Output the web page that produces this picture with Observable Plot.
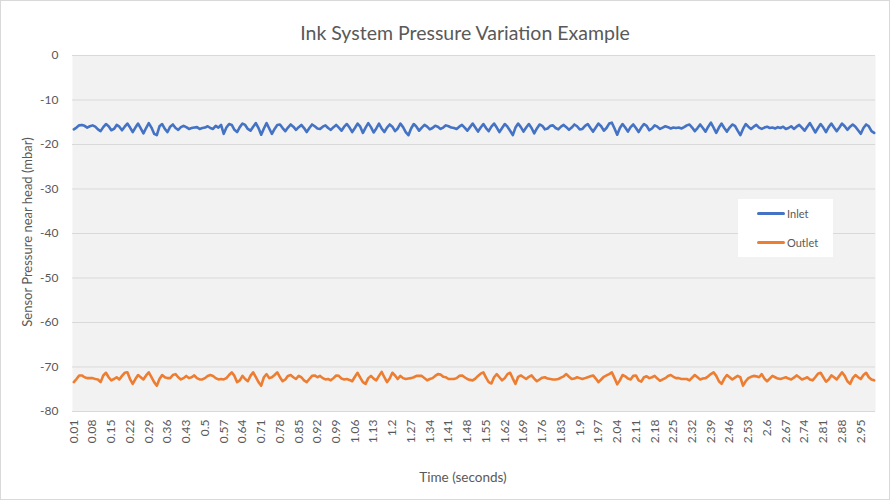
<!DOCTYPE html>
<html>
<head>
<meta charset="utf-8">
<script src="https://cdn.jsdelivr.net/npm/d3@7"></script>
<script src="https://cdn.jsdelivr.net/npm/@observablehq/plot@0.6"></script>
<style>
  body { margin: 0; background: #fff; }
  #chart { position: relative; width: 890px; height: 500px; font-family: Lato, "Open Sans", sans-serif; color: #595959; overflow: hidden; }
  #chart svg { position: absolute; left: 0; top: 0; }
  .border { position: absolute; left: 0; top: 0; width: 890px; height: 500px; box-sizing: border-box; border: 1px solid #d9d9d9; pointer-events: none; }
  .title { position: absolute; left: 465px; top: 32px; transform: translate(-50%, -50%); font-size: 19.5px; white-space: nowrap; }
  .xlabel { position: absolute; left: 463px; top: 477px; transform: translate(-50%, -50%); font-size: 13.5px; white-space: nowrap; }
  .ylabel { position: absolute; left: 27px; top: 232px; transform: translate(-50%, -50%) rotate(-90deg); font-size: 13px; white-space: nowrap; }
  .legend { position: absolute; left: 738px; top: 199px; width: 95px; height: 58px; background: #fff; font-size: 11px; }
  .legend .item { position: absolute; left: 19px; display: flex; align-items: center; height: 14px; }
  .legend .sw { width: 28px; height: 3px; margin-right: 2px; border-radius: 1.5px; }
</style>
</head>
<body>
<div id="chart"></div>
<script>
// Sample times in seconds (category axis), 0.01 s to 3.00 s
const times = d3.range(1, 301).map(i => String(+(i / 100).toFixed(2)));

// Category labels shown along the time axis
const tickLabels = ["0.01","0.08","0.15","0.22","0.29","0.36","0.43","0.5","0.57","0.64","0.71","0.78","0.85","0.92","0.99","1.06","1.13","1.2","1.27","1.34","1.41","1.48","1.55","1.62","1.69","1.76","1.83","1.9","1.97","2.04","2.11","2.18","2.25","2.32","2.39","2.46","2.53","2.6","2.67","2.74","2.81","2.88","2.95"];

const yTicks = [0, -10, -20, -30, -40, -50, -60, -70, -80];

// Inlet pressure (mbar)
const inlet = [
  -16.6,-16.2,-15.7,-15.6,-15.8,-16.2,-15.9,-15.7,-16.0,-16.6,-17.0,-16.1,-15.4,-15.9,-16.8,-16.5,-15.6,-16.0,-16.8,-16.0,
  -15.3,-16.2,-17.2,-16.2,-15.3,-16.4,-17.5,-16.3,-15.2,-16.2,-17.6,-17.9,-15.9,-15.4,-16.5,-17.2,-16.0,-15.5,-16.3,-16.7,
  -16.1,-15.8,-16.1,-16.5,-16.3,-16.2,-16.1,-16.5,-16.3,-16.2,-15.9,-16.3,-16.5,-15.8,-16.2,-15.6,-17.6,-16.2,-15.4,-15.6,
  -16.7,-17.2,-16.1,-15.3,-15.6,-16.5,-16.9,-16.0,-15.2,-16.3,-17.8,-16.4,-15.2,-16.4,-17.6,-16.5,-15.6,-15.5,-16.3,-17.0,
  -16.2,-15.5,-16.0,-16.7,-16.1,-15.6,-16.3,-17.2,-16.3,-15.5,-15.9,-16.4,-16.5,-16.0,-15.7,-16.3,-16.7,-16.1,-15.6,-16.2,
  -16.9,-16.0,-15.4,-16.2,-17.2,-16.3,-15.3,-16.0,-17.4,-16.2,-15.2,-16.1,-17.3,-16.4,-15.3,-16.4,-17.2,-16.2,-15.5,-16.0,
  -17.0,-16.4,-15.3,-16.1,-17.2,-17.9,-16.4,-15.4,-16.0,-16.9,-16.2,-15.6,-16.0,-16.6,-16.3,-15.8,-16.0,-16.5,-16.2,-15.7,
  -15.9,-16.2,-16.3,-16.5,-16.0,-15.6,-16.2,-16.9,-16.1,-15.3,-16.2,-17.1,-16.2,-15.4,-16.3,-17.0,-16.0,-15.3,-16.2,-17.2,
  -16.3,-15.4,-16.0,-16.9,-17.9,-16.2,-15.3,-16.1,-17.1,-16.2,-15.4,-16.3,-17.5,-16.4,-15.5,-15.8,-16.6,-16.4,-15.8,-15.7,
  -16.3,-16.6,-16.0,-15.6,-16.1,-16.7,-16.2,-15.5,-15.9,-16.6,-16.5,-15.8,-15.4,-16.3,-17.1,-16.2,-15.3,-15.9,-16.9,-16.3,
  -15.3,-15.1,-16.4,-17.8,-16.3,-15.4,-16.2,-17.1,-16.1,-15.5,-16.3,-17.2,-16.2,-15.4,-15.8,-16.8,-16.4,-15.7,-16.0,-16.5,
  -16.2,-15.9,-16.1,-16.4,-16.2,-16.3,-16.2,-16.4,-16.1,-15.7,-15.5,-16.2,-17.0,-16.3,-15.5,-16.3,-17.1,-16.0,-15.1,-16.2,
  -17.4,-16.2,-15.3,-16.3,-17.1,-16.2,-15.5,-15.8,-16.9,-17.9,-16.5,-15.4,-16.0,-16.5,-16.0,-15.6,-16.2,-16.5,-16.2,-16.0,
  -16.3,-16.2,-16.4,-16.1,-16.3,-16.0,-16.5,-16.3,-15.9,-16.5,-16.0,-15.6,-16.2,-16.9,-16.0,-15.2,-16.2,-17.3,-16.3,-15.4,
  -16.2,-17.2,-16.1,-15.3,-16.2,-17.0,-16.2,-15.3,-15.9,-16.7,-16.0,-15.5,-16.0,-16.8,-17.6,-16.3,-15.5,-15.9,-17.0,-17.4
];

// Outlet pressure (mbar)
const outlet = [
  -73.4,-72.7,-71.9,-71.9,-72.3,-72.5,-72.5,-72.5,-72.7,-72.8,-73.4,-71.9,-71.3,-72.3,-73.0,-72.7,-72.3,-72.8,-72.0,-71.3,
  -71.2,-72.7,-73.8,-72.7,-71.8,-72.3,-72.8,-71.9,-71.2,-72.3,-73.4,-74.2,-72.7,-71.8,-72.3,-72.5,-72.5,-71.8,-71.6,-72.3,
  -72.8,-72.5,-72.0,-72.5,-72.3,-71.9,-72.5,-72.8,-72.8,-72.5,-72.0,-71.8,-72.0,-72.5,-72.8,-72.7,-72.8,-72.5,-71.8,-71.2,
  -72.0,-73.4,-73.0,-72.0,-72.7,-73.2,-72.0,-71.2,-72.3,-73.4,-74.2,-72.3,-71.6,-72.5,-72.3,-71.8,-71.2,-72.3,-73.2,-72.8,
  -72.0,-71.8,-72.3,-72.7,-72.0,-72.3,-73.0,-73.4,-72.7,-72.0,-71.9,-72.3,-72.0,-72.5,-72.8,-72.7,-73.0,-72.5,-71.9,-72.0,
  -72.6,-72.8,-72.7,-72.9,-73.2,-72.2,-71.3,-72.4,-73.4,-73.8,-72.5,-72.0,-72.6,-73.0,-72.0,-71.1,-72.3,-73.4,-72.6,-71.3,
  -71.9,-72.7,-72.0,-72.5,-72.7,-72.6,-72.5,-72.3,-72.0,-72.0,-72.0,-72.5,-73.0,-72.7,-72.5,-72.0,-71.6,-71.7,-72.2,-72.3,
  -72.7,-72.7,-72.7,-72.5,-72.0,-71.9,-72.3,-72.7,-72.9,-73.0,-72.6,-72.0,-71.5,-71.2,-72.4,-73.4,-73.7,-72.3,-71.6,-72.3,
  -73.0,-72.5,-71.6,-71.3,-72.6,-73.8,-72.2,-71.9,-72.3,-72.7,-72.2,-71.9,-72.6,-73.2,-72.8,-72.4,-72.3,-72.6,-72.7,-72.8,
  -72.8,-72.7,-72.4,-72.1,-71.6,-72.2,-72.7,-72.6,-72.3,-72.5,-72.7,-72.5,-72.3,-72.1,-71.9,-72.6,-73.4,-72.8,-72.2,-71.9,
  -71.6,-71.2,-72.5,-73.9,-73.0,-71.8,-72.1,-72.6,-72.8,-72.0,-71.9,-73.0,-73.3,-72.3,-72.1,-72.5,-72.3,-72.0,-72.6,-73.1,
  -72.8,-72.5,-72.0,-71.8,-72.2,-72.5,-72.5,-72.7,-72.7,-72.7,-73.0,-72.4,-71.8,-72.3,-72.8,-72.6,-72.5,-72.1,-71.6,-71.2,
  -72.0,-73.2,-73.8,-72.6,-71.8,-72.3,-72.8,-72.4,-72.0,-72.3,-74.2,-73.2,-72.5,-72.2,-72.0,-72.1,-72.3,-71.6,-72.6,-73.2,
  -72.6,-72.0,-72.3,-72.6,-72.7,-72.5,-72.3,-72.6,-72.8,-72.4,-71.9,-72.3,-72.8,-72.6,-72.3,-72.8,-73.0,-72.3,-71.5,-71.3,
  -72.3,-73.3,-72.8,-71.9,-72.3,-72.8,-72.0,-71.2,-72.0,-73.2,-73.8,-72.5,-71.8,-72.3,-72.7,-71.8,-71.3,-72.3,-72.8,-73.0
];

const seriesNames = ["Inlet", "Outlet"];
const seriesColors = ["#4472c4", "#ed7d31"];

const rows = [
  ...times.map((t, i) => ({t, v: inlet[i], s: seriesNames[0]})),
  ...times.map((t, i) => ({t, v: outlet[i], s: seriesNames[1]}))
];

const plot = Plot.plot({
  width: 890,
  height: 500,
  marginTop: 55,
  marginRight: 15,
  marginBottom: 89,
  marginLeft: 72,
  style: {fontFamily: "Lato, 'Open Sans', sans-serif", fontSize: "12px", color: "#595959", background: "transparent"},
  x: {type: "point", domain: times, padding: 0.5},
  y: {domain: [-80, 0]},
  color: {domain: seriesNames, range: seriesColors},
  marks: [
    Plot.frame({fill: "#f2f2f2", stroke: null}),
    Plot.gridY(yTicks, {stroke: "#d9d9d9", strokeOpacity: 1, strokeWidth: 1}),
    Plot.axisY(yTicks, {tickSize: 0, tickPadding: 14, label: null, fill: "#595959", fontSize: 12, tickFormat: d => String(d)}),
    Plot.axisX(tickLabels, {tickSize: 0, tickPadding: 8, tickRotate: -90, label: null, fill: "#595959", fontSize: 12}),
    Plot.line(rows, {x: "t", y: "v", z: "s", stroke: "s", strokeWidth: 2.6, strokeLinejoin: "round", strokeLinecap: "round"})
  ]
});

const chart = document.getElementById("chart");
chart.appendChild(plot);

const title = document.createElement("div");
title.className = "title";
title.textContent = "Ink System Pressure Variation Example";
chart.appendChild(title);

const xl = document.createElement("div");
xl.className = "xlabel";
xl.textContent = "Time (seconds)";
chart.appendChild(xl);

const yl = document.createElement("div");
yl.className = "ylabel";
yl.textContent = "Sensor Pressure near head (mbar)";
chart.appendChild(yl);

// Legend box inside the plot area
const legend = document.createElement("div");
legend.className = "legend";
seriesNames.forEach((name, k) => {
  const item = document.createElement("div");
  item.className = "item";
  item.style.top = (7 + k * 29) + "px";
  const sw = document.createElement("div");
  sw.className = "sw";
  sw.style.background = seriesColors[k];
  const lab = document.createElement("span");
  lab.textContent = name;
  item.appendChild(sw);
  item.appendChild(lab);
  legend.appendChild(item);
});
chart.appendChild(legend);

const border = document.createElement("div");
border.className = "border";
chart.appendChild(border);
</script>
</body>
</html>
